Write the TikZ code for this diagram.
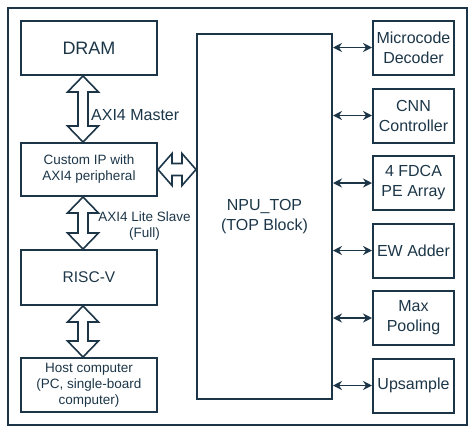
\documentclass[tikz,border=0pt]{standalone}
\usepackage{fontspec}
\setmainfont{Liberation Sans}
\usetikzlibrary{calc,arrows.meta}
\definecolor{ink}{RGB}{28,54,72}
\newcommand\vfat[3]{%
  \draw[fat] ($(#1.south -| #3)$) -- ++(15.5,16) -- ++(-10.5,0) -- ($(#2.north -| #3)+(5,-16)$) -- ++(10.5,0) -- ($(#2.north -| #3)$) -- ++(-15.5,-16) -- ++(10.5,0) -- ($(#1.south -| #3)+(-5,16)$) -- ++(-10.5,0) -- cycle;}
\tikzset{
  box/.style={draw=ink, line width=2pt, text=ink, align=center, inner sep=0pt},
  lbox/.style={box, minimum width=136pt},
  rbox/.style={box, minimum width=81pt, minimum height=54pt, font=\fontsize{16}{20}\selectfont},
  fat/.style={draw=ink, line width=1.6pt, fill=white, line join=miter},
  biarrow/.style={draw=ink, line width=1.5pt, {Stealth[length=9pt,width=9pt]}-{Stealth[length=9pt,width=9pt]}},
  lbl/.style={text=ink, inner sep=0pt, align=center},
}
\begin{document}
\begin{tikzpicture}[x=1pt,y=-1pt]
\useasboundingbox (0,0) rectangle (474,432);
\draw[ink, line width=2pt] (7.5,7.5) rectangle (467,425);
% left column
\node[lbox, minimum height=54pt, font=\fontsize{18}{22}\selectfont] (dram) at (89,48) {DRAM};
\node[lbox, minimum height=53pt, font=\fontsize{13.5}{16}\selectfont] (ip) at (89,169.5) {Custom IP with\\AXI4 peripheral};
\node[lbox, minimum height=55pt, font=\fontsize{15.5}{19}\selectfont] (risc) at (89,277.5) {RISC-V};
\node[lbox, minimum height=54pt, font=\fontsize{13.5}{16}\selectfont] (host) at (89,385) {Host computer\\(PC, single-board\\computer)};
% center
\node[box, minimum width=135pt, minimum height=365pt, font=\fontsize{16}{19.5}\selectfont] (npu) at (264.5,216.5) {NPU\_TOP\\(TOP Block)};
% right column
\node[rbox] (m1) at (413.5,47.5) {Microcode\\Decoder};
\node[rbox] (m2) at (413.5,115.5) {CNN\\Controller};
\node[rbox] (m3) at (413.5,183) {4 FDCA\\PE Array};
\node[rbox] (m4) at (413.5,250.5) {EW Adder};
\node[rbox] (m5) at (413.5,318) {Max\\Pooling};
\node[rbox] (m6) at (413.5,385.5) {Upsample};
\foreach \m in {m1,m2,m3,m4,m5,m6}{
  \draw[biarrow] (npu.east |- \m.west) -- (\m.west);
}
% fat arrows
\coordinate (ax) at (83,0);
\vfat{dram}{ip}{ax}
\vfat{ip}{risc}{ax}
\vfat{risc}{host}{ax}
\draw[fat] (ip.east) -- ++(14,-16) -- ++(0,10) -- ($(npu.west |- ip.east)+(-14,-6)$) -- ++(0,-10) -- (npu.west |- ip.east) -- ++(-14,16) -- ++(0,-10) -- ($(ip.east)+(14,6)$) -- ++(0,10) -- cycle;
% labels
\node[lbl, anchor=west, font=\fontsize{16}{19}\selectfont] (lm) at (91,115) {AXI4 Master};
\node[lbl, font=\fontsize{13.5}{16}\selectfont] (ls) at (144.5,226) {AXI4 Lite Slave\\(Full)};
\end{tikzpicture}
\end{document}
